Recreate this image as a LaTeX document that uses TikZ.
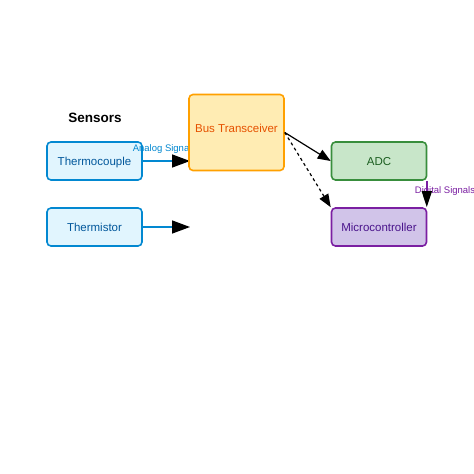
\documentclass[tikz,border=0pt]{standalone}
\usepackage{fontspec}
\setmainfont{Liberation Sans}
\usetikzlibrary{arrows.meta}
\definecolor{tcfill}{HTML}{E1F5FE}
\definecolor{tcdraw}{HTML}{0288D1}
\definecolor{tctext}{HTML}{01579B}
\definecolor{btfill}{HTML}{FFECB3}
\definecolor{btdraw}{HTML}{FFA000}
\definecolor{bttext}{HTML}{E65100}
\definecolor{adfill}{HTML}{C8E6C9}
\definecolor{addraw}{HTML}{388E3C}
\definecolor{adtext}{HTML}{1B5E20}
\definecolor{mcfill}{HTML}{D1C4E9}
\definecolor{mcdraw}{HTML}{7B1FA2}
\definecolor{mctext}{HTML}{4A148C}
\begin{document}
\begin{tikzpicture}[x=1pt,y=-1pt,
  box/.style={rectangle,rounded corners=4pt,line width=1.6pt,minimum width=95pt,minimum height=38pt,inner sep=0pt,text height=8.2pt,text depth=-2.4pt,font=\fontsize{11.5}{13}\selectfont},
  bigtip/.style={-{Triangle[length=18pt,width=13pt,color=black]}},
  smalltip/.style={-{Triangle[length=13pt,width=10pt,color=black]}},
  lbl/.style={font=\fontsize{9.5}{11}\selectfont,inner sep=0pt}]
\useasboundingbox[fill=white] (0,0) rectangle (474,474);
\node[font=\bfseries\fontsize{13.5}{15}\selectfont] (sens) at (95,118) {Sensors};
\node[box,fill=tcfill,draw=tcdraw,text=tctext] (tc) at (94.5,161) {Thermocouple};
\node[box,fill=tcfill,draw=tcdraw,text=tctext] (th) at (94.5,227) {Thermistor};
\coordinate (thend) at (190,227);
\coordinate (tcend) at (190,161);
\node[lbl,text=tcdraw] (alab) at (164.5,149.5) {Analog Signals};
\draw[bigtip,draw=tcdraw,line width=1.5pt] (tc.east) -- (tcend);
\draw[bigtip,draw=tcdraw,line width=1.5pt] (th.east) -- (thend);
\node[box,fill=btfill,draw=btdraw,text=bttext,minimum height=76pt,text depth=9pt] (bt) at (236.5,132.5) {Bus Transceiver};
\node[box,fill=adfill,draw=addraw,text=adtext] (adc) at (379,161) {ADC};
\node[box,fill=mcfill,draw=mcdraw,text=mctext] (mc) at (379,227) {Microcontroller};
\draw[smalltip,line width=1.2pt] (bt.east) -- (adc.west);
\draw[smalltip,line width=1.2pt,dashed] (bt.east) -- (mc.north west);
\node[lbl,text=mcdraw] (dlab) at (445,191.5) {Digital Signals};
\draw[-{Triangle[length=16pt,width=10pt,color=black]},draw=mcdraw,line width=1.5pt] ([xshift=-0.5pt]adc.south east) -- ([xshift=-0.5pt]mc.north east);
\end{tikzpicture}
\end{document}
